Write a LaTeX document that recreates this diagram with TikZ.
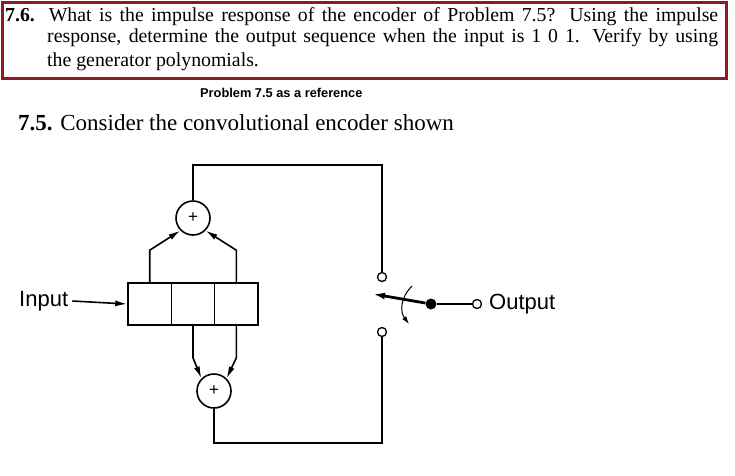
\documentclass[tikz,border=0pt]{standalone}
\usepackage{fontspec}
\setmainfont{Liberation Serif}
\newfontfamily\arialf{Liberation Sans}
\usetikzlibrary{arrows.meta}
\definecolor{frame}{HTML}{8B1A24}
\begin{document}
\begin{tikzpicture}[x=1pt,y=-1pt,
  wire/.style={line width=1.6pt},
  arr/.style={wire,-{Latex[length=12pt,width=6pt]}},
  adder/.style={circle,draw,line width=1.6pt,minimum size=34pt,inner sep=0pt,font=\arialf\fontsize{17}{17}\selectfont},
  cell/.style={draw,line width=1.6pt,minimum width=43.3pt,minimum height=42pt,inner sep=0pt},
  term/.style={circle,draw,line width=1.3pt,fill=white,minimum size=9pt,inner sep=0pt},
  txt/.style={anchor=west,inner sep=0pt}]
\useasboundingbox (0,0) rectangle (735,475);
\fill[white] (0,0) rectangle (735,475);
\draw[frame,line width=3pt] (2,2) rectangle (726,78);
\node[txt] (l1) at (5,17) {\fontsize{19.8}{21}\selectfont\makebox[713pt][s]{\textbf{7.6.} What is the impulse response of the encoder of Problem 7.5? Using the impulse}};
\node[txt] (l2) at (47,38) {\fontsize{19.8}{21}\selectfont\makebox[671pt][s]{response, determine the output sequence when the input is 1 0 1. Verify by using}};
\node[txt] (l3) at (47,62) {\fontsize{19.8}{21}\selectfont the generator polynomials.};
\node[txt] (ref) at (200,93) {\arialf\bfseries\fontsize{12.8}{14}\selectfont Problem 7.5 as a reference};
\node[txt] (t75) at (18,123) {\fontsize{23}{25}\selectfont\textbf{7.5.} Consider the convolutional encoder shown};
% register
\node[cell] (c1) at (149.7,304) {};
\node[cell] (c2) at (193,304) {};
\node[cell] (c3) at (236.3,304) {};
\node[adder] (a1) at (193,218) {+};
\node[adder] (a2) at (214,391) {+};
\node[txt,font=\arialf\fontsize{22}{24}\selectfont] (in) at (19,301) {Input};
\draw[arr] (in.east) ++(4,0) coordinate (ins) -- (c1.west);
\draw[arr] (c1.north) -- ++(0,-32) -- (a1.south west);
\draw[arr] (c3.north) -- ++(0,-32) -- (a1.south east);
\draw[arr] (c2.south) -- ++(0,32) -- (a2.north west);
\draw[arr] (c3.south) -- ++(0,32) -- (a2.north east);
% switch
\node[term] (s1) at (382,277) {};
\node[term] (s2) at (382,332) {};
\node[circle,fill,inner sep=0pt,minimum size=11pt] (pv) at (431,304) {};
\node[term] (o) at (477,304) {};
\node[txt,font=\arialf\fontsize{22}{24}\selectfont] (out) at (489,304) {Output};
\draw[wire] (a1.north) |- (382,165) -- (s1.north);
\draw[wire] (a2.south) |- (382,443) -- (s2.south);
\draw[wire] (pv) -- (o);
\coordinate (tip) at (373,294);
\draw[line width=2.8pt,-{Latex[length=12pt,width=7pt]}] (pv) -- (tip);
\draw[line width=1pt,-{Latex[length=8pt,width=5pt]}] (412,286) .. controls (400,298) and (400,312) .. (409,324);
\end{tikzpicture}
\end{document}
